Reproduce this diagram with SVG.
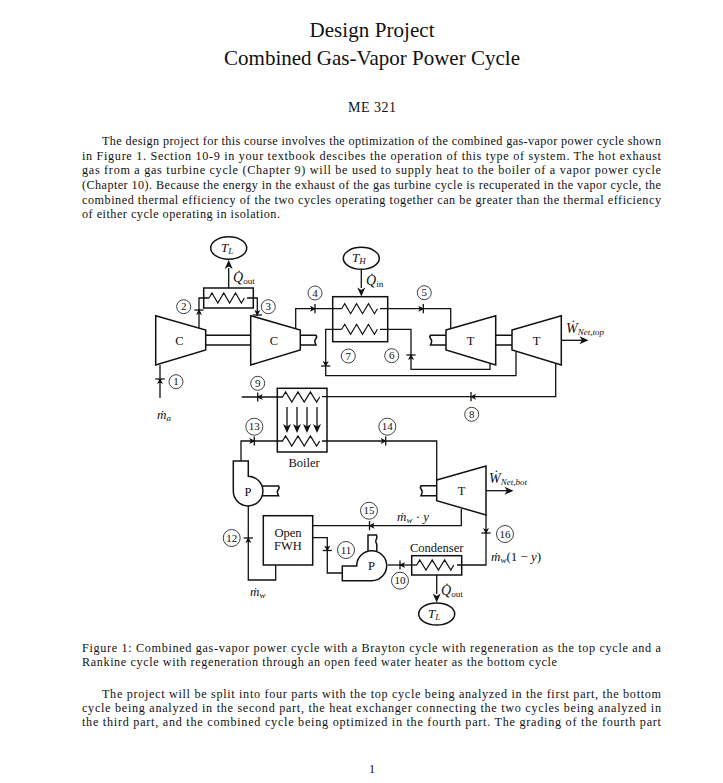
<svg xmlns="http://www.w3.org/2000/svg" width="723" height="783" viewBox="0 0 723 783">
<style>
text{font-family:"Liberation Serif","Times New Roman",serif;fill:#111}
.t{font-size:12.2px}
.h{font-size:21px;text-anchor:middle}
.m{font-size:12.5px;text-anchor:middle}
.c{font-size:11px;text-anchor:middle}
.x{font-size:13px;font-style:italic}
.q{font-size:14px}
.s{font-size:9px}
.r{font-style:normal}
.u{fill:none;stroke:#111;stroke-width:1.5;stroke-linejoin:miter}
.l{fill:none;stroke:#111;stroke-width:1.3}
.w{fill:none;stroke:#111;stroke-width:1.2}
.b{fill:#fff;stroke:#111;stroke-width:1.5}
.n{fill:#fff;stroke:#111;stroke-width:.8}
.a{fill:#111;stroke:none}
</style>
<defs>
<path id="head" class="a" d="M0,0 L-9,-4 L-6.5,0 L-9,4 Z"/>
<g id="tk"><path class="a" d="M1,0 L-5,-3 L-3.6,0 L-5,3 Z"/><path class="l" d="M0,-4.6 V4.6"/></g>
<path id="zig" class="w" d="M0,0 l3.1,-5 l6.2,10 l6.2,-10 l6.2,10 l6.2,-10 l6.2,10 l3.1,-5"/>
</defs>

<g id="page-text">
<text class="h" x="372" y="37" textLength="125" lengthAdjust="spacing">Design Project</text>
<text class="h" x="372" y="65" textLength="296" lengthAdjust="spacing">Combined Gas-Vapor Power Cycle</text>
<text class="m" x="372" y="112" style="font-size:14px" textLength="48" lengthAdjust="spacing">ME 321</text>
<text class="t" x="102" y="145" textLength="559" lengthAdjust="spacing">The design project for this course involves the optimization of the combined gas-vapor power cycle shown</text>
<text class="t" x="82" y="160" textLength="579" lengthAdjust="spacing">in Figure 1. Section 10-9 in your textbook descibes the operation of this type of system. The hot exhaust</text>
<text class="t" x="82" y="174" textLength="579" lengthAdjust="spacing">gas from a gas turbine cycle (Chapter 9) will be used to supply heat to the boiler of a vapor power cycle</text>
<text class="t" x="82" y="189" textLength="579" lengthAdjust="spacing">(Chapter 10). Because the energy in the exhaust of the gas turbine cycle is recuperated in the vapor cycle, the</text>
<text class="t" x="82" y="204" textLength="579" lengthAdjust="spacing">combined thermal efficiency of the two cycles operating together can be greater than the thermal efficiency</text>
<text class="t" x="82" y="218" textLength="198" lengthAdjust="spacing">of either cycle operating in isolation.</text>
<text class="t" x="82" y="652" textLength="579" lengthAdjust="spacing">Figure 1: Combined gas-vapor power cycle with a Brayton cycle with regeneration as the top cycle and a</text>
<text class="t" x="82" y="666" textLength="475" lengthAdjust="spacing">Rankine cycle with regeneration through an open feed water heater as the bottom cycle</text>
<text class="t" x="102" y="698" textLength="559" lengthAdjust="spacing">The project will be split into four parts with the top cycle being analyzed in the first part, the bottom</text>
<text class="t" x="82" y="712" textLength="579" lengthAdjust="spacing">cycle being analyzed in the second part, the heat exchanger connecting the two cycles being analyzed in</text>
<text class="t" x="82" y="726" textLength="579" lengthAdjust="spacing">the third part, and the combined cycle being optimized in the fourth part. The grading of the fourth part</text>
<text class="t" x="372" y="773" text-anchor="middle">1</text>
</g>

<g id="connectors">
<path class="l" d="M160,365 V398"/><use href="#tk" transform="translate(160,379) rotate(-90)"/>
<path class="l" d="M199,329 V298 H209"/><use href="#tk" transform="translate(199,310) rotate(-90)"/>
<path class="l" d="M247,298 H257.3 V316"/><use href="#tk" transform="translate(257.3,315) rotate(90)"/>
<path class="l" d="M228.7,288 V268"/><use href="#head" transform="translate(228.7,260) rotate(-90)"/>
<path class="u" d="M205.7,335.3 H250.7 M205.7,345 H250.7"/>
<path class="l" d="M295.7,329 V308.7 H341.7"/><use href="#tk" transform="translate(315,308.7)"/>
<path class="l" d="M380,308.7 H450.7 V328"/><use href="#tk" transform="translate(423.3,308.7)"/>
<path class="l" d="M341.7,329.3 H325.7 V375.7 H516 V352"/><use href="#tk" transform="translate(325.7,366) rotate(90)"/>
<path class="l" d="M380,329.3 H411 V369.3 H490 V362"/><use href="#tk" transform="translate(411,355) rotate(-90)"/>
<path class="l" d="M361.3,269 V288"/><use href="#head" transform="translate(361.3,296.5) rotate(90)"/>
<path class="u" d="M495.7,335.3 H512 M495.7,345 H512"/>
<path class="l" d="M561.3,340.3 H582"/><use href="#head" transform="translate(588.5,340.3)"/>
<path class="l" d="M555.7,361 V396.7 H322 M283,397 H241.7"/><use href="#tk" transform="translate(471,396.7) rotate(180)"/><use href="#tk" transform="translate(257.7,397) rotate(180)"/>
<path class="l" d="M287,407 V428 M297,407 V428 M307,407 V428 M317,407 V428"/>
<use href="#head" transform="translate(287,433) rotate(90)"/><use href="#head" transform="translate(297,433) rotate(90)"/><use href="#head" transform="translate(307,433) rotate(90)"/><use href="#head" transform="translate(317,433) rotate(90)"/>
<path class="l" d="M241,461 V441 H283 M322,441 H436.7 V480"/><use href="#tk" transform="translate(254.3,441)"/><use href="#tk" transform="translate(385.7,441)"/>
<path class="l" d="M248.3,505.7 V580 H275.7 V565"/><use href="#tk" transform="translate(248.3,538) rotate(-90)"/>
<path class="l" d="M461.3,509 V525.7 H312.7"/><use href="#tk" transform="translate(369.5,525.7) rotate(180)"/>
<path class="l" d="M312.7,537.7 H327.3 V573 H342.3"/><use href="#tk" transform="translate(327.3,550.5) rotate(90)"/>
<path class="l" d="M417,565 H387.7"/><use href="#tk" transform="translate(400,565) rotate(180)"/>
<path class="l" d="M457,565 H486 V515"/><use href="#tk" transform="translate(486,533) rotate(90)"/>
<path class="l" d="M436.7,575 V594"/><use href="#head" transform="translate(436.7,602.5) rotate(90)"/>
<path class="l" d="M486,490.7 H507"/><use href="#head" transform="translate(513.5,490.7)"/>
</g>

<g id="compressor-1"><path class="b" d="M155.7,315.7 L205.7,330 V350 L155.7,365 Z"/><text class="m" x="179.5" y="344.5">C</text></g>
<g id="compressor-2"><path class="b" d="M250.7,315.7 L300.3,330 V350 L250.7,365 Z"/><text class="m" x="274" y="344.5">C</text>
<path class="u" d="M300.3,335.3 H316 q1.5,2 -.5,4 q-1.5,2 .5,5.7 H300.3"/></g>
<g id="intercooler"><rect class="u" x="203.7" y="288" width="49.6" height="20"/><use href="#zig" transform="translate(209,298) scale(.95,1)"/>
<text class="x" x="233" y="282"><tspan class="q">Q̇</tspan><tspan class="s r" dy="2">out</tspan></text></g>
<g id="tl-top"><ellipse class="b" cx="228.7" cy="248" rx="18" ry="11.2"/><text class="x" x="221" y="252">T<tspan class="s" dy="2">L</tspan></text></g>
<g id="th"><ellipse class="b" cx="361.3" cy="258.3" rx="18" ry="11"/><text class="x" x="352" y="262">T<tspan class="s" dy="2">H</tspan></text>
<text class="x" x="366" y="285"><tspan class="q">Q̇</tspan><tspan class="s r" dy="2">in</tspan></text></g>
<g id="heater"><rect class="u" x="332.7" y="296.7" width="55" height="45"/><use href="#zig" transform="translate(341.7,308.7) scale(.96,1)"/><use href="#zig" transform="translate(341.7,329.3) scale(.96,1)"/></g>
<g id="turbine-1"><path class="b" d="M446,330 L495.7,315.7 V365 L446,350 Z"/><text class="m" x="470.5" y="344.5">T</text>
<path class="u" d="M446,335.3 H430.5 q-1.5,2 .5,4 q1.5,2 -.5,5.7 H446"/></g>
<g id="turbine-2"><path class="b" d="M512,330 L561.3,315.7 V365 L512,350 Z"/><text class="m" x="536.5" y="344.5">T</text>
<text class="x" x="566" y="333"><tspan class="q">Ẇ</tspan><tspan class="s" dy="2">Net,top</tspan></text></g>
<g id="boiler"><rect class="u" x="277.3" y="388.3" width="49.7" height="63.7"/><use href="#zig" transform="translate(282.5,397)"/><use href="#zig" transform="translate(282.5,441)"/>
<text class="m" x="304" y="467">Boiler</text></g>
<g id="pump-1"><path class="b" d="M233.3,461 H248.3 V476.3 A14.8,14.8 0 1 1 233.3,491 Z"/><text class="m" x="248" y="495.5">P</text>
<path class="u" d="M262,486 H278.5 q1.5,2 -.5,4 q-1.5,2 .5,5.7 H262"/></g>
<g id="fwh"><rect class="b" x="263.3" y="515.7" width="49.4" height="49.3"/><text class="m" x="288" y="537">Open</text><text class="m" x="288" y="549.5">FWH</text></g>
<g id="pump-2"><path class="u" d="M368,551 V535 H376.5 q1,3 -.5,5 q-1,2 .8,4 V551"/><path class="b" d="M342.3,566 H356.7 A15,15 0 1 1 371.7,580.7 H342.3 Z"/><text class="m" x="371.5" y="570">P</text></g>
<g id="turbine-3"><path class="b" d="M436.7,480 L486,466 V515 L436.7,500.7 Z"/><text class="m" x="461.5" y="495">T</text>
<path class="u" d="M436.7,485.7 H421 q-1.5,2 .5,4 q1.5,2 -.5,6 H436.7"/>
<text class="x" x="489" y="483"><tspan class="q">Ẇ</tspan><tspan class="s" dy="2">Net,bot</tspan></text></g>
<g id="condenser"><rect class="u" x="411.7" y="555.7" width="50" height="19.3"/><use href="#zig" transform="translate(416.7,565)"/>
<text class="m" x="436.7" y="551.5">Condenser</text>
<text class="x" x="441" y="595"><tspan class="q">Q̇</tspan><tspan class="s r" dy="2">out</tspan></text></g>
<g id="tl-bottom"><ellipse class="b" cx="436.7" cy="614" rx="18" ry="11"/><text class="x" x="428" y="618">T<tspan class="s" dy="2">L</tspan></text></g>

<g id="flow-labels">
<text class="x" x="157" y="419">ṁ<tspan class="s" dy="2">a</tspan></text>
<text class="x" x="250" y="596">ṁ<tspan class="s" dy="2">w</tspan></text>
<text class="x" x="397" y="521">ṁ<tspan class="s" dy="2">w</tspan><tspan class="r" dy="-2"> · </tspan><tspan>y</tspan></text>
<text class="x" x="491" y="561">ṁ<tspan class="s" dy="2">w</tspan><tspan class="r" dy="-2">(1 − </tspan><tspan>y</tspan><tspan class="r">)</tspan></text>
</g>

<g id="state-1"><circle class="n" cx="176" cy="381.7" r="7"/><text class="c" x="176" y="385.3">1</text></g>
<g id="state-2"><circle class="n" cx="183.7" cy="306.7" r="7"/><text class="c" x="183.7" y="310.3">2</text></g>
<g id="state-3"><circle class="n" cx="268.3" cy="306.7" r="7"/><text class="c" x="268.3" y="310.3">3</text></g>
<g id="state-4"><circle class="n" cx="315" cy="293" r="7"/><text class="c" x="315" y="296.6">4</text></g>
<g id="state-5"><circle class="n" cx="424.3" cy="292.7" r="7"/><text class="c" x="424.3" y="296.3">5</text></g>
<g id="state-6"><circle class="n" cx="391.7" cy="355.7" r="7"/><text class="c" x="391.7" y="359.3">6</text></g>
<g id="state-7"><circle class="n" cx="348.3" cy="356" r="7"/><text class="c" x="348.3" y="359.6">7</text></g>
<g id="state-8"><circle class="n" cx="471.7" cy="414.3" r="7"/><text class="c" x="471.7" y="417.9">8</text></g>
<g id="state-9"><circle class="n" cx="257.7" cy="383.3" r="7"/><text class="c" x="257.7" y="386.9">9</text></g>
<g id="state-10"><circle class="n" cx="400" cy="580.7" r="8.5"/><text class="c" x="400" y="584.3">10</text></g>
<g id="state-11"><circle class="n" cx="346" cy="550" r="8.5"/><text class="c" x="346" y="553.6">11</text></g>
<g id="state-12"><circle class="n" cx="231.7" cy="538" r="8.5"/><text class="c" x="231.7" y="541.6">12</text></g>
<g id="state-13"><circle class="n" cx="254.3" cy="426.7" r="8.5"/><text class="c" x="254.3" y="430.3">13</text></g>
<g id="state-14"><circle class="n" cx="387.3" cy="426.7" r="8.5"/><text class="c" x="387.3" y="430.3">14</text></g>
<g id="state-15"><circle class="n" cx="369" cy="510.7" r="8.5"/><text class="c" x="369" y="514.3">15</text></g>
<g id="state-16"><circle class="n" cx="505" cy="534" r="8.5"/><text class="c" x="505" y="537.6">16</text></g>
</svg>
